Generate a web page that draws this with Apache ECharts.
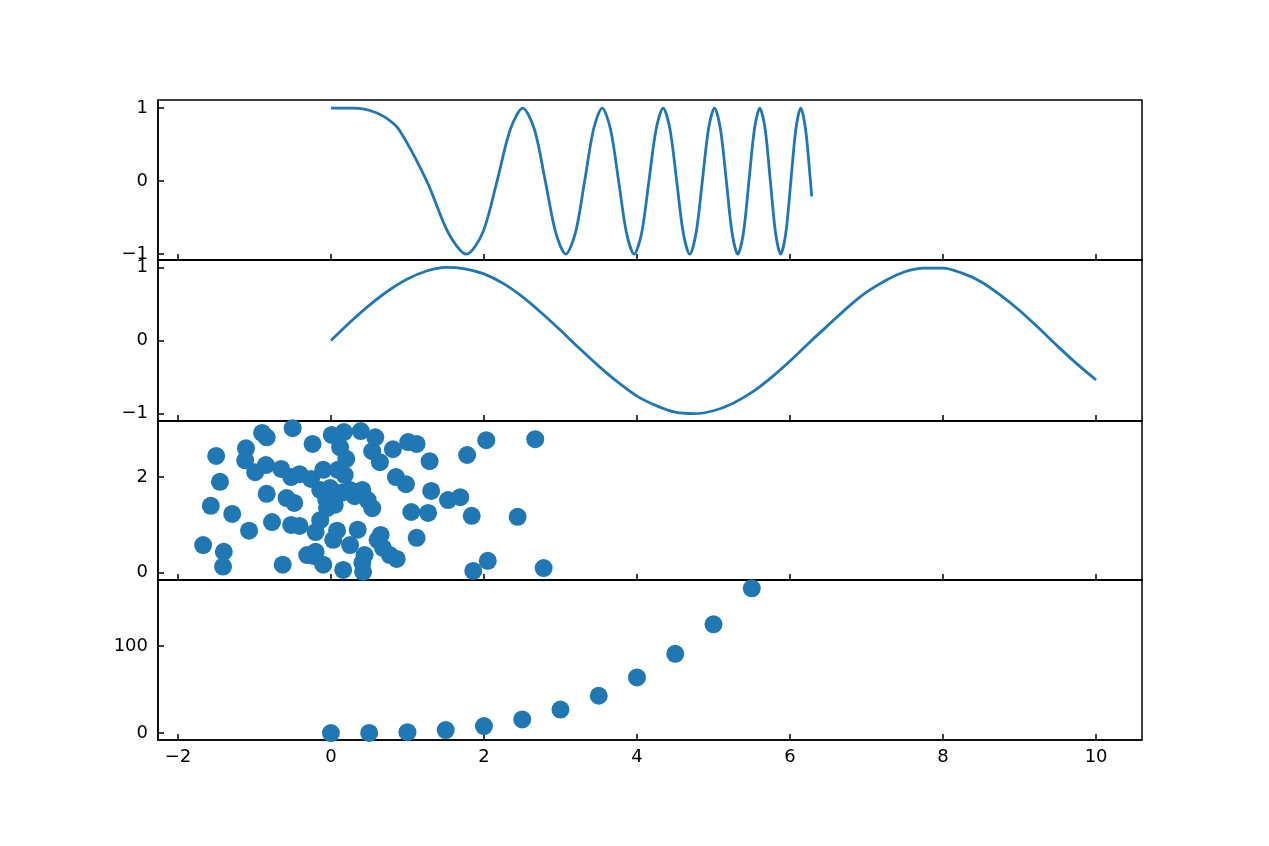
<!DOCTYPE html>
<html>
<head>
<meta charset="utf-8">
<script src="https://cdn.jsdelivr.net/npm/echarts@6/dist/echarts.min.js"></script>
<style>html,body{margin:0;background:#fff}#c{width:1269px;height:846px}</style>
</head>
<body>
<div id="c"></div>
<script>
// panel 1: fast oscillating curve
const chirpX = [0,0.3,0.5,0.7,0.886,1.253,1.535,1.772,1.982,2.171,2.345,2.507,2.659,2.802,2.939,3.070,3.195,3.316,3.432,3.545,3.654,3.760,3.863,3.963,4.061,4.156,4.250,4.342,4.431,4.519,4.605,4.690,4.772,4.854,4.934,5.013,5.091,5.168,5.243,5.317,5.391,5.463,5.535,5.605,5.675,5.743,5.811,5.878,5.945,6.011,6.076,6.140,6.203,6.267,6.283];
const chirpY = [1,1,0.97,0.88,0.71,0,-0.71,-1,-0.71,0,0.71,1,0.71,0,-0.71,-1,-0.71,0,0.71,1,0.71,0,-0.71,-1,-0.71,0,0.71,1,0.71,0,-0.71,-1,-0.71,0,0.71,1,0.71,0,-0.71,-1,-0.71,0,0.71,1,0.71,0,-0.71,-1,-0.71,0,0.71,1,0.71,0,-0.21];
// panel 2: slow wave
const waveX = [0,0.25,0.5,0.75,1,1.25,1.5,1.75,2,2.25,2.5,2.75,3,3.25,3.5,3.75,4,4.25,4.5,4.75,5,5.25,5.5,5.75,6,6.25,6.5,6.75,7,7.25,7.5,7.75,8,8.25,8.5,8.75,9,9.25,9.5,9.75,10];
const waveY = [0,0.25,0.48,0.68,0.84,0.95,1.0,0.98,0.91,0.78,0.60,0.38,0.14,-0.11,-0.35,-0.57,-0.76,-0.89,-0.98,-1.0,-0.96,-0.86,-0.71,-0.51,-0.28,-0.03,0.21,0.45,0.66,0.82,0.94,0.99,0.99,0.92,0.80,0.62,0.41,0.17,-0.08,-0.32,-0.54];
// panel 3: scatter cloud
const cloudX = [-1.67,-1.57,-1.50,-1.45,-1.40,-1.41,-1.29,-1.11,-1.07,-1.12,-0.99,-0.90,-0.84,-0.84,-0.77,-0.85,-0.65,-0.63,-0.58,-0.52,-0.50,-0.52,-0.48,-0.31,-0.24,-0.26,-0.20,-0.20,-0.10,-0.10,-0.01,0.01,0.03,0.08,0.12,0.16,0.17,0.14,0.20,0.25,0.31,0.35,0.39,0.41,0.41,0.42,0.48,0.54,0.54,0.58,0.61,0.64,0.65,0.77,0.81,0.86,0.85,0.98,1.01,1.05,1.12,1.12,1.27,1.29,1.31,1.53,1.69,1.78,1.86,1.84,2.03,2.05,2.44,2.67,2.78,-0.14,-0.05,0.05,-0.06,-0.41,-0.22,0.25,0.09,0.68,0.44,-0.41,-0.14,0.18];
const cloudY = [0.58,1.40,2.44,1.90,0.44,0.13,1.23,2.60,0.88,2.35,2.10,2.92,2.83,1.65,1.06,2.25,2.17,0.17,1.56,2.00,3.02,1.00,1.46,0.37,2.69,1.96,0.85,0.44,2.15,0.17,1.77,2.88,0.69,0.88,2.62,0.06,2.94,1.67,2.38,0.58,1.60,0.90,2.96,1.73,0.21,0.02,1.52,1.35,2.54,2.83,0.69,2.31,0.79,0.37,2.58,0.29,2.00,1.85,2.73,1.27,2.69,0.73,1.25,2.33,1.71,1.52,1.58,2.46,0.04,1.19,2.77,0.25,1.17,2.79,0.10,1.10,1.35,1.42,1.52,2.06,0.35,1.73,2.15,0.52,0.37,0.98,1.73,2.04];
// panel 4: cubic growth dots
const cubeX = [0,0.5,1,1.5,2,2.5,3,3.5,4,4.5,5,5.5];
const cubeY = [0,0.125,1,3.4,8,15.6,27,42.9,64,91.1,125,166.4];
const xTicks = [-2,0,2,4,6,8,10];

const blue = '#1f77b4';
const font = 'DejaVu Sans';
const minus = v => String(v).replace('-', '\u2212');
const pairs = (xs, ys) => xs.map((x, i) => [x, ys[i]]);

const tops = [100, 260, 421, 580];
const heights = [160, 161, 159, 160];
const yCfg = [
  {min: -1.08, max: 1.11, ticks: [-1, 0, 1]},
  {min: -1.1, max: 1.1, ticks: [-1, 0, 1]},
  {min: -0.15, max: 3.17, ticks: [0, 2]},
  {min: -8, max: 176, ticks: [0, 100]}
];

const chart = echarts.init(document.getElementById('c'));
chart.setOption({
  animation: false,
  grid: tops.map((t, i) => ({left: 158, width: 984, top: t, height: heights[i], show: true, borderColor: '#000', borderWidth: 1.5, backgroundColor: 'transparent'})),
  xAxis: tops.map((t, i) => ({
    type: 'value', gridIndex: i, min: -2.26, max: 10.6,
    axisLine: {show: true, onZero: false, lineStyle: {color: '#000', width: 1.5}},
    axisTick: {show: true, inside: true, length: 6, lineStyle: {color: '#000', width: 1.5}, customValues: xTicks},
    axisLabel: {show: i === 3, customValues: xTicks, color: '#000', fontFamily: font, fontSize: 18, margin: 8, formatter: minus},
    splitLine: {show: false}
  })),
  yAxis: yCfg.map((c, i) => ({
    type: 'value', gridIndex: i, min: c.min, max: c.max,
    axisLine: {show: true, onZero: false, lineStyle: {color: '#000', width: 1.5}},
    axisTick: {show: true, inside: true, length: 6, lineStyle: {color: '#000', width: 1.5}, customValues: c.ticks},
    axisLabel: {customValues: c.ticks, color: '#000', fontFamily: font, fontSize: 18, margin: 10, formatter: minus},
    splitLine: {show: false}
  })),
  series: [
    {type: 'line', xAxisIndex: 0, yAxisIndex: 0, data: pairs(chirpX, chirpY), smooth: 0.3, showSymbol: false, lineStyle: {color: blue, width: 2.8}},
    {type: 'line', xAxisIndex: 1, yAxisIndex: 1, data: pairs(waveX, waveY), smooth: 0.3, showSymbol: false, lineStyle: {color: blue, width: 2.8}},
    {type: 'scatter', xAxisIndex: 2, yAxisIndex: 2, data: pairs(cloudX, cloudY), symbolSize: 18, itemStyle: {color: blue, opacity: 1}},
    {type: 'scatter', xAxisIndex: 3, yAxisIndex: 3, data: pairs(cubeX, cubeY), symbolSize: 18, itemStyle: {color: blue, opacity: 1}}
  ]
});
</script>
</body>
</html>
